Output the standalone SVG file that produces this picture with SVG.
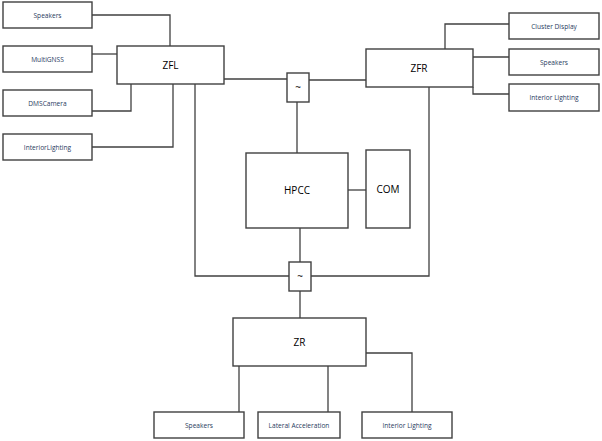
<svg xmlns="http://www.w3.org/2000/svg" width="602" height="441" viewBox="0 0 602 441">
<style>
.box{fill:#fff;stroke:#404040;stroke-width:1.4}
.sm{font-family:"Open Sans","Liberation Sans",sans-serif;font-size:6.6px;fill:#1f3a60;text-anchor:middle;dominant-baseline:central}
.lg{font-family:"Open Sans","Liberation Sans",sans-serif;font-size:10px;fill:#000;text-anchor:middle;dominant-baseline:central}
.c{fill:none;stroke:#404040;stroke-width:1.3}
</style>
<rect width="602" height="441" fill="#fff"/>
<g id="connectors">
<path class="c" d="M92,15 H170 V46"/>
<path class="c" d="M92,54 H117"/>
<path class="c" d="M131,84 V111 H92"/>
<path class="c" d="M173,84 V147 H92"/>
<path class="c" d="M224,79 H287"/>
<path class="c" d="M309,80 H366"/>
<path class="c" d="M297,102 V153"/>
<path class="c" d="M445,49 V24 H509"/>
<path class="c" d="M473,57 H509"/>
<path class="c" d="M473,87 V94 H509"/>
<path class="c" d="M348,190 H366"/>
<path class="c" d="M300,228 V262"/>
<path class="c" d="M195,84 V276 H289"/>
<path class="c" d="M429,87 V276 H311"/>
<path class="c" d="M300,291 V318"/>
<path class="c" d="M239,366 V412"/>
<path class="c" d="M328,366 V412"/>
<path class="c" d="M366,353 H412 V412"/>
</g>
<g id="n-speakers-l"><rect class="box" x="3" y="2" width="89" height="26"/><text class="sm" x="47.5" y="15">Speakers</text></g>
<g id="n-multignss"><rect class="box" x="3" y="46" width="89" height="26"/><text class="sm" x="47.5" y="59">MultiGNSS</text></g>
<g id="n-dmscamera"><rect class="box" x="3" y="90" width="89" height="26"/><text class="sm" x="47.5" y="103">DMSCamera</text></g>
<g id="n-interiorlighting-l"><rect class="box" x="3" y="134" width="89" height="26"/><text class="sm" x="47.5" y="147">InteriorLighting</text></g>
<g id="n-zfl"><rect class="box" x="117" y="46" width="107" height="38"/><text class="lg" x="170.5" y="65">ZFL</text></g>
<g id="n-tilde1"><rect class="box" x="287" y="73" width="22" height="29"/><text class="lg" x="298" y="87">~</text></g>
<g id="n-zfr"><rect class="box" x="366" y="49" width="107" height="38"/><text class="lg" x="419" y="68">ZFR</text></g>
<g id="n-cluster"><rect class="box" x="509" y="13" width="90" height="26"/><text class="sm" x="554" y="26">Cluster Display</text></g>
<g id="n-speakers-r"><rect class="box" x="509" y="49" width="90" height="26"/><text class="sm" x="554" y="62">Speakers</text></g>
<g id="n-interiorlighting-r"><rect class="box" x="509" y="84" width="90" height="27"/><text class="sm" x="554" y="97.5">Interior Lighting</text></g>
<g id="n-hpcc"><rect class="box" x="246" y="153" width="102" height="75"/><text class="lg" x="297" y="190">HPCC</text></g>
<g id="n-com"><rect class="box" x="366" y="150" width="44" height="78"/><text class="lg" x="388" y="189">COM</text></g>
<g id="n-tilde2"><rect class="box" x="289" y="262" width="22" height="29"/><text class="lg" x="300" y="276">~</text></g>
<g id="n-zr"><rect class="box" x="233" y="318" width="133" height="48"/><text class="lg" x="299.5" y="342">ZR</text></g>
<g id="n-speakers-b"><rect class="box" x="154" y="412" width="90" height="26"/><text class="sm" x="199" y="425">Speakers</text></g>
<g id="n-lateral"><rect class="box" x="258" y="412" width="82" height="26"/><text class="sm" x="299" y="425">Lateral Acceleration</text></g>
<g id="n-interiorlighting-b"><rect class="box" x="362" y="412" width="90" height="26"/><text class="sm" x="407" y="425">Interior Lighting</text></g>
</svg>
